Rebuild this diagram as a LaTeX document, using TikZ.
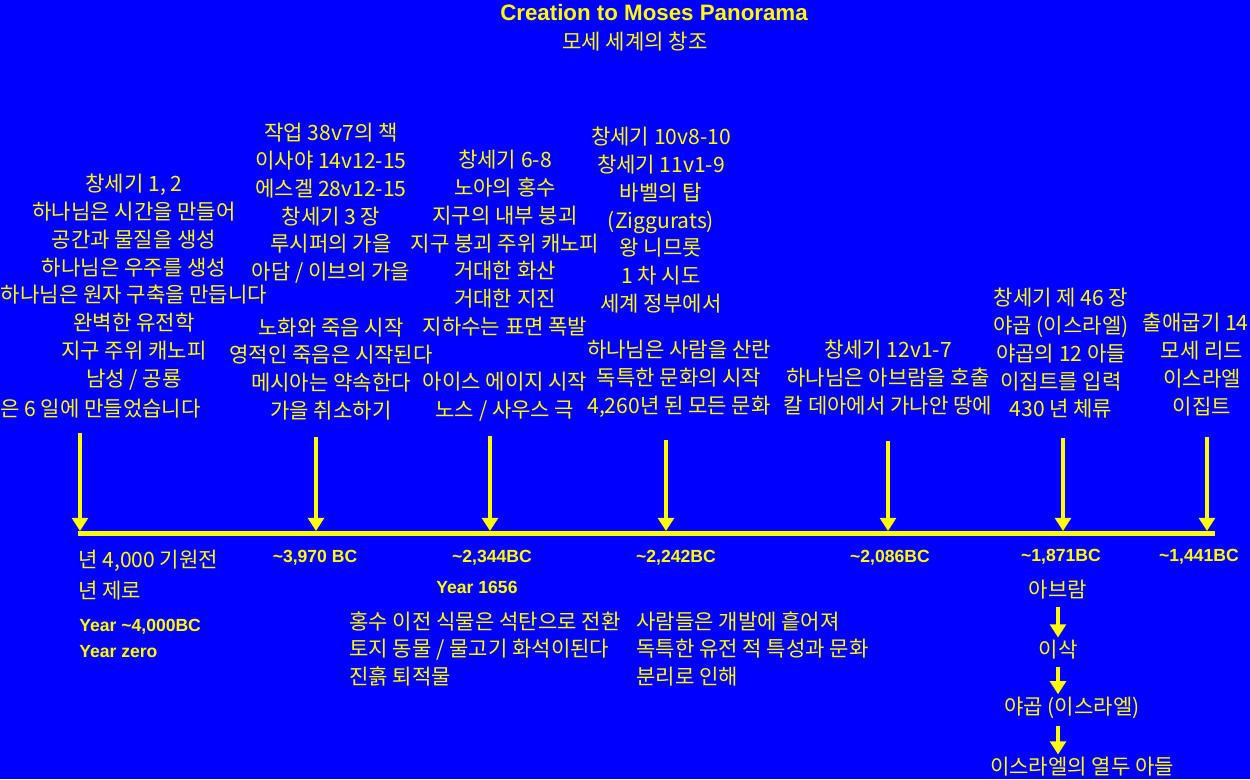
\documentclass[tikz,border=0pt]{standalone}
\usepackage{fontspec}
\setmainfont{Liberation Sans}
\newfontfamily\kor{Noto Sans CJK KR}
\usetikzlibrary{arrows.meta,positioning}

\definecolor{bgblue}{RGB}{0,0,255}
\definecolor{ylw}{RGB}{255,255,0}

\begin{document}
\begin{tikzpicture}[x=0.02cm,y=-0.02cm,
  kor/.style={text=ylw,font=\kor\fontsize{12}{15.8}\selectfont,inner sep=0pt,align=center},
  eng/.style={text=ylw,font=\bfseries\fontsize{10}{14.8}\selectfont,inner sep=0pt,align=left},
  tlarrow/.style={draw=ylw,line width=2.7pt,-{Triangle[width=9pt,length=7.5pt]}},
  chain/.style={tlarrow,shorten <=4pt,shorten >=1.5pt}]
% background
\fill[bgblue] (0,0) rectangle (1250,779);
\useasboundingbox (0,0) rectangle (1250,779);

% title
\node[eng,font=\bfseries\fontsize{12.7}{15}\selectfont] (title) at (654,13) {Creation to Moses Panorama};
\node[kor] (subtitle) at (635,42) {모세 세계의 창조};

% events above the line
\node[kor,anchor=north] (creation) at (134,174) {창세기 1, 2\\하나님은 시간을 만들어\\공간과 물질을 생성\\하나님은 우주를 생성\\하나님은 원자 구축을 만듭니다\\완벽한 유전학\\지구 주위 캐노피\\남성 / 공룡};
\node[kor,anchor=west] (sixdays) at (0,409) {은 6 일에 만들었습니다};
\node[kor,anchor=north] (fall) at (331,123) {작업 38v7의 책\\이사야 14v12-15\\에스겔 28v12-15\\창세기 3 장\\루시퍼의 가을\\아담 / 이브의 가을\\[15.8pt]노화와 죽음 시작\\영적인 죽음은 시작된다\\메시아는 약속한다\\가을 취소하기};
\node[kor,anchor=north] (flood) at (505,150) {창세기 6-8\\노아의 홍수\\지구의 내부 붕괴\\지구 붕괴 주위 캐노피\\거대한 화산\\거대한 지진\\지하수는 표면 폭발\\[15.8pt]아이스 에이지 시작\\노스 / 사우스 극};
\node[kor,anchor=north] (babel) at (661,127) {창세기 10v8-10\\창세기 11v1-9\\바벨의 탑\\(Ziggurats)\\왕 니므롯\\1 차 시도\\세계 정부에서};
\node[kor,anchor=north] (nations) at (679,340) {하나님은 사람을 산란\\독특한 문화의 시작\\4,260년 된 모든 문화};
\node[kor,anchor=north] (call) at (888,340) {창세기 12v1-7\\하나님은 아브람을 호출\\칼 데아에서 가나안 땅에};
\node[kor,anchor=north] (egypt) at (1061,288) {창세기 제 46 장\\야곱 (이스라엘)\\야곱의 12 아들\\이집트를 입력\\430 년 체류};
\node[kor,anchor=north east] (exodusref) at (1249,313) {출애굽기 14};
\node[kor,anchor=north] (exodus) at (1202,341) {모세 리드\\이스라엘\\이집트};

% time line
\coordinate (tlstart) at (78,533);
\coordinate (tlend) at (1215,533);
\draw[ylw,line width=2.85pt] (tlstart) -- (tlend);
\foreach \x/\top [count=\i] in {80/433,316/437,490/436,666/440,888/441,1063/438,1207/437}{
  \coordinate (top\i) at (\x,\top);
  \coordinate (t\i) at (\x,531);
  \draw[tlarrow] (top\i) -- (t\i);
}

% dates
\node[kor,anchor=north west,align=left] (zerok) at (78,550) {년 4,000 기원전\\[1.5pt]년 제로};
\node[eng,anchor=north west] (zeroe) at (79,619) {Year \textasciitilde4,000BC\\Year zero};
\node[eng] (d2) at (315,558) {\textasciitilde3,970 BC};
\node[eng] (d3) at (492,558) {\textasciitilde2,344BC};
\node[eng] (year) at (477,587) {Year 1656};
\node[eng] (d4) at (676,558) {\textasciitilde2,242BC};
\node[eng] (d5) at (890,558) {\textasciitilde2,086BC};
\node[eng] (d6) at (1061,557) {\textasciitilde1,871BC};
\node[eng] (d7) at (1199,557) {\textasciitilde1,441BC};

% notes below the line
\node[kor,anchor=north west,align=left] (coal) at (349,611) {홍수 이전 식물은 석탄으로 전환\\토지 동물 / 물고기 화석이된다\\진흙 퇴적물};
\node[kor,anchor=north west,align=left] (scatter) at (636,611) {사람들은 개발에 흩어져\\독특한 유전 적 특성과 문화\\분리로 인해};

% family line
\node[kor] (abram) at (1058,590) {아브람};
\node[kor] (isaac) at (1058,650) {이삭};
\node[kor] (jacob) at (1072,708) {야곱 (이스라엘)};
\node[kor] (sons) at (1082,767) {이스라엘의 열두 아들};
\draw[chain] (abram) -- (isaac);
\draw[chain] (isaac.south) -- (isaac.south |- jacob.north);
\draw[chain] (isaac.south |- jacob.south) -- (isaac.south |- sons.north);
\end{tikzpicture}
\end{document}
